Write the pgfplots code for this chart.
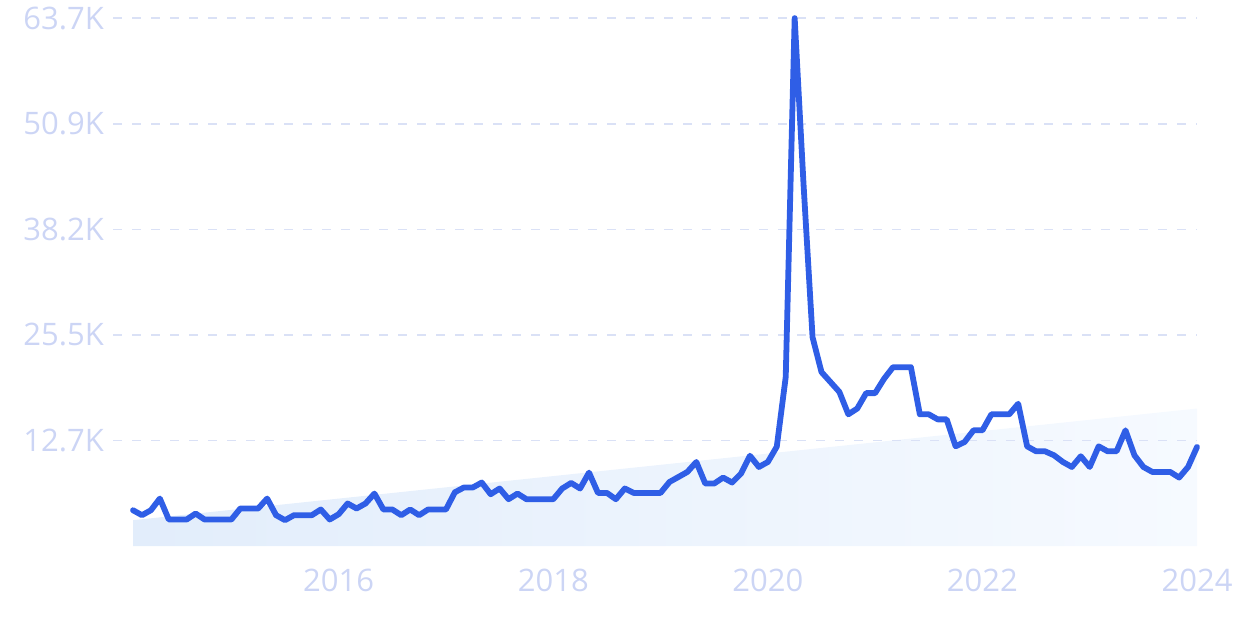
\documentclass[border=0pt]{standalone}
\usepackage{pgfplots}
\pgfplotsset{compat=1.18}
\usepackage{fontspec}
\setmainfont{Open Sans}
\definecolor{linec}{RGB}{47,94,230}
\definecolor{tickc}{RGB}{204,213,245}
\definecolor{gridc}{RGB}{218,225,246}
\definecolor{areaL}{RGB}{226,237,251}
\definecolor{areaR}{RGB}{246,250,255}
\begin{document}
\begin{tikzpicture}
\begin{axis}[
  set layers,
  scale only axis,
  width=542pt, height=264pt,
  xmin=-2.24, xmax=119,
  ymin=0, ymax=63.7,
  clip=false,
  axis line style={draw=none},
  tick style={draw=none},
  xtick={23,47,71,95,119},
  xticklabels={2016,2018,2020,2022,2024},
  ytick={12.74,25.48,38.22,50.96,63.7},
  yticklabels={12.7K,25.5K,38.2K,50.9K,63.7K},
  ymajorgrids,
  grid style={gridc, line width=0.8pt, dash pattern=on 4.5pt off 5pt},
  ticklabel style={font=\fontsize{15.5}{18}\selectfont, text=tickc},
  xticklabel style={yshift=-8pt},
  yticklabel style={xshift=-1pt},
]
\addplot[on layer=axis background, draw=none, left color=areaL, right color=areaR]
  coordinates {(0,3.13) (119,16.6)} \closedcycle;
\addplot[linec, line width=2.9pt, line join=round, line cap=round] coordinates {
(0,4.33) (1,3.73) (2,4.33) (3,5.74) (4,3.21) (5,3.21) (6,3.21) (7,3.93) (8,3.21) (9,3.21)
(10,3.21) (11,3.21) (12,4.54) (13,4.54) (14,4.54) (15,5.74) (16,3.73) (17,3.13) (18,3.73) (19,3.73)
(20,3.73) (21,4.42) (22,3.21) (23,3.85) (24,5.14) (25,4.54) (26,5.14) (27,6.34) (28,4.42) (29,4.42)
(30,3.73) (31,4.42) (32,3.73) (33,4.42) (34,4.42) (35,4.42) (36,6.5) (37,7.07) (38,7.07) (39,7.67)
(40,6.26) (41,6.95) (42,5.66) (43,6.34) (44,5.66) (45,5.66) (46,5.66) (47,5.66) (48,6.95) (49,7.62)
(50,6.95) (51,8.87) (52,6.42) (53,6.42) (54,5.66) (55,6.95) (56,6.42) (57,6.42) (58,6.42) (59,6.42)
(60,7.74) (61,8.34) (62,8.95) (63,10.15) (64,7.55) (65,7.55) (66,8.27) (67,7.67) (68,8.75) (69,10.9)
(70,9.55) (71,10.15) (72,12.0) (73,20.4) (74,63.7) (75,43.5) (76,25.2) (77,21.0) (78,19.8) (79,18.6)
(80,15.9) (81,16.6) (82,18.46) (83,18.46) (84,20.19) (85,21.59) (86,21.59) (87,21.59) (88,15.9) (89,15.9)
(90,15.29) (91,15.29) (92,12.04) (93,12.56) (94,13.97) (95,13.97) (96,15.9) (97,15.9) (98,15.9) (99,17.18)
(100,12.04) (101,11.44) (102,11.44) (103,10.96) (104,10.15) (105,9.55) (106,10.84) (107,9.55) (108,12.04) (109,11.44)
(110,11.44) (111,13.97) (112,10.96) (113,9.55) (114,8.95) (115,8.95) (116,8.95) (117,8.27) (118,9.55) (119,11.96)
};
\end{axis}
\useasboundingbox (-56.5pt,-37pt) rectangle (563.5pt,273pt);
\end{tikzpicture}
\end{document}
